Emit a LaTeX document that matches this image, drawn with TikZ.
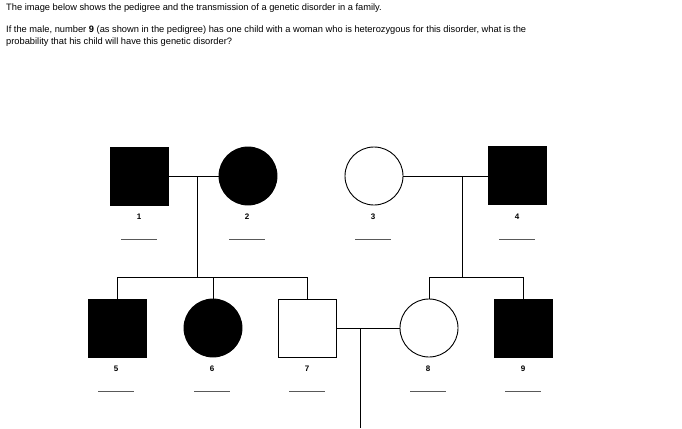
\documentclass[tikz,border=0pt]{standalone}
\usepackage{fontspec}
\setmainfont{Liberation Sans}
\begin{document}
\begin{tikzpicture}[x=1pt,y=-1pt,
  ln/.style={line width=0.9pt},
  fsq/.style={draw,fill=black,minimum size=58pt,inner sep=0,line width=0.9pt},
  osq/.style={draw,fill=white,minimum size=58pt,inner sep=0,line width=0.9pt},
  fci/.style={draw,circle,fill=black,minimum size=58pt,inner sep=0,line width=0.9pt},
  oci/.style={draw,circle,fill=white,minimum size=58pt,inner sep=0,line width=0.9pt},
  num/.style={font=\fontsize{8}{9}\selectfont\bfseries},
  txt/.style={anchor=west,font=\fontsize{9.3}{11}\selectfont,inner sep=0}]
\useasboundingbox (0,0) rectangle (682,428);
\node[txt] (t1) at (6,8) {The image below shows the pedigree and the transmission of a genetic disorder in a family.};
\node[txt] (t2) at (6,30) {If the male, number \textbf{9} (as shown in the pedigree) has one child with a woman who is heterozygous for this disorder, what is the};
\node[txt] (t3) at (6,42) {probability that his child will have this genetic disorder?};
% generation I
\node[fsq] (p1) at (139,176) {};
\node[fci] (p2) at (248,176) {};
\node[oci] (p3) at (374,176) {};
\node[fsq] (p4) at (517,175) {};
% generation II
\node[fsq] (p5) at (117,328) {};
\node[fci] (p6) at (213,328) {};
\node[osq] (p7) at (307,328) {};
\node[oci] (p8) at (429,328) {};
\node[fsq] (p9) at (523,328) {};
% coordinates
\coordinate (m12) at (197,176);
\coordinate (s1) at (197,277);
\coordinate (s1l) at (117,277);
\coordinate (s1m) at (213,277);
\coordinate (s1r) at (307,277);
\coordinate (m34) at (462,176);
\coordinate (s2) at (462,277);
\coordinate (s2l) at (429,277);
\coordinate (s2r) at (523,277);
\coordinate (m78) at (360,328);
\coordinate (ch) at (360,428);
\draw[ln] (p1.east) -- (p2.west);
\draw[ln] (p3.east) -- (p4.west |- p3.east);
\draw[ln] (m12) -- (s1);
\draw[ln] (m34) -- (s2);
\draw[ln] (s1l) -- (s1r);
\draw[ln] (s2l) -- (s2r);
\draw[ln] (s1l) -- (p5.north);
\draw[ln] (s1m) -- (p6.north);
\draw[ln] (s1r) -- (p7.north);
\draw[ln] (s2l) -- (p8.north);
\draw[ln] (s2r) -- (p9.north);
\draw[ln] (p7.east) -- (p8.west);
\draw[ln] (m78) -- (ch);
% labels
\foreach \n/\x/\y in {1/139/217,2/247/217,3/373/217,4/517/217,5/116/369,6/212/369,7/307/369,8/428/369,9/523/369}{
  \node[num] (l\n) at (\x,\y) {\n};
  \draw[line width=0.8pt,gray!70!black] (\x-18,\y+22) -- (\x+18,\y+22);
}
\end{tikzpicture}
\end{document}
